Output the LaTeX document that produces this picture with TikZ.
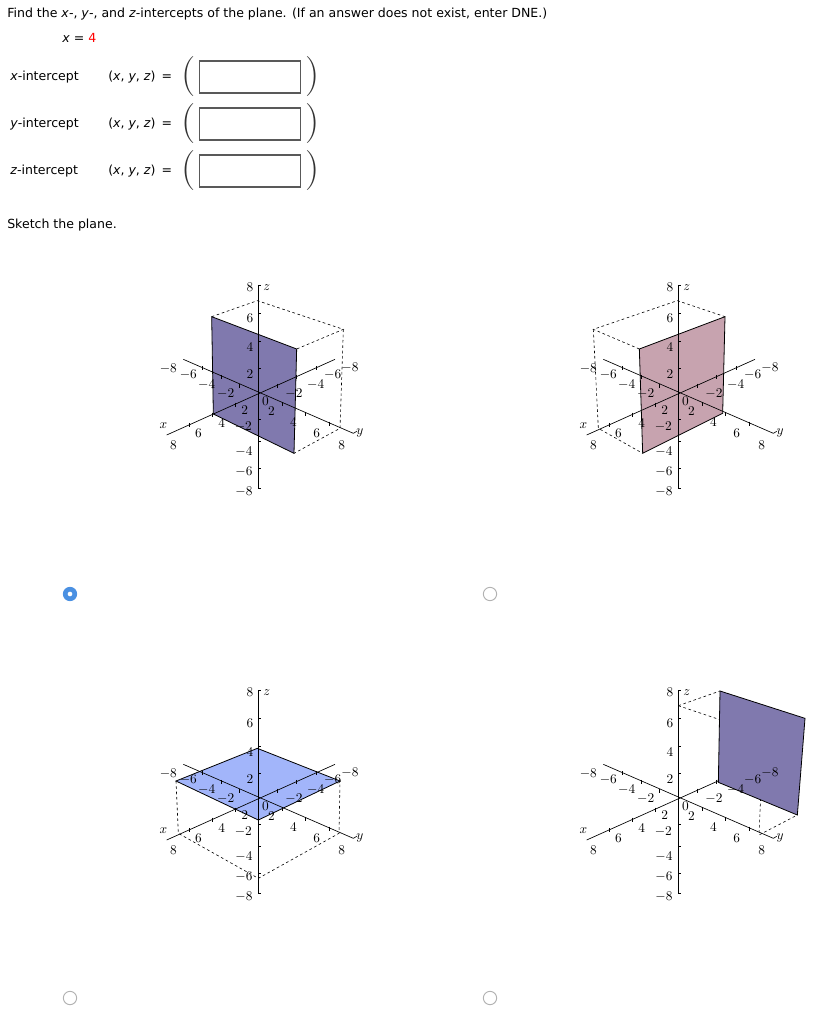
\documentclass[tikz,border=0pt]{standalone}
\usepackage{fontspec}
\newfontfamily\verd{DejaVu Sans}
\definecolor{pA}{HTML}{8079AE}
\definecolor{pB}{HTML}{C7A3AF}
\definecolor{pC}{HTML}{A2B5FA}
\definecolor{rad}{HTML}{4A90E2}
\tikzset{
  txt/.style={anchor=west,inner sep=0pt,font=\verd\fontsize{9.4}{11}\selectfont},
  ansbox/.style={draw=gray!70!black,line width=0.8pt,minimum width=75.5pt,minimum height=24pt,inner sep=0pt},
  paren/.style={inner sep=0pt,font=\fontsize{30}{30}\selectfont\color{black!80}},
  lab/.style={inner sep=0pt,font=\fontsize{10}{11}\selectfont},
  ax/.style={line width=0.5pt},
  dsh/.style={dashed,line width=0.45pt,dash pattern=on 2pt off 2pt},
  plane/.style={draw=black,line width=0.6pt},
  radio/.style={circle,draw=gray!60,line width=0.7pt,minimum size=10pt,inner sep=0pt}
}
\newcommand{\myaxlines}{%
  \draw[ax] (355,45) -- (355,655);
  \draw[ax] (355,45) -- (362,45);
  \foreach \z in {130,215,295,447,515,595,655} \draw[ax] (355,\z) -- (362,\z);
  \draw[ax] (130,268) -- (640,490);
  \draw[ax] (80,495) -- (585,268);
  \draw[ax] (640,490) -- (650,484);
  \foreach \t in {2,4,6} {
    \draw[ax] ({355-34.4*\t},{373+15.25*\t-6}) -- ++(0,12);
    \draw[ax] ({355+28.75*\t},{373-13.1*\t-6}) -- ++(0,12);
    \draw[ax] ({355+35.6*\t},{373+14.6*\t-6}) -- ++(0,12);
    \draw[ax] ({355-28.1*\t},{373-13.1*\t-6}) -- ++(0,12);
  }
}
\newcommand{\myaxlabels}{%
  \node[lab] (lz8) at (330,52) {8};
  \node[lab] (lz) at (380,52) {$z$};
  \node[lab] (lz6) at (330,145) {6};
  \node[lab] (lz4) at (330,230) {4};
  \node[lab] (lz2) at (330,312) {2};
  \node[lab] (lz0) at (376,395) {0};
  \node[lab] (lzm2) at (310,470) {$-2$};
  \node[lab] (lzm4) at (312,545) {$-4$};
  \node[lab] (lzm6) at (312,605) {$-6$};
  \node[lab] (lzm8) at (312,665) {$-8$};
  \node[lab] (lym8) at (85,295) {$-8$};
  \node[lab] (lym6) at (145,315) {$-6$};
  \node[lab] (lym4) at (200,343) {$-4$};
  \node[lab] (lym2) at (257,372) {$-2$};
  \node[lab] (ly2) at (394,423) {2};
  \node[lab] (ly4) at (460,457) {4};
  \node[lab] (ly6) at (530,490) {6};
  \node[lab] (ly8) at (605,525) {8};
  \node[lab] (ly) at (660,490) {$y$};
  \node[lab] (lx) at (70,468) {$x$};
  \node[lab] (lx8) at (100,525) {8};
  \node[lab] (lx6) at (175,490) {6};
  \node[lab] (lx4) at (245,460) {4};
  \node[lab] (lx2) at (314,420) {2};
  \node[lab] (lxm2) at (462,370) {$-2$};
  \node[lab] (lxm4) at (527,343) {$-4$};
  \node[lab] (lxm6) at (578,315) {$-6$};
  \node[lab] (lxm8) at (630,292) {$-8$};
}
\begin{document}
\begin{tikzpicture}[x=0.75pt,y=-0.75pt]
\useasboundingbox[fill=white] (0,0) rectangle (827,1019);
\node[txt] (q) at (7,14) {Find the \textit{x}-, \textit{y}-, and \textit{z}-intercepts of the plane. (If an answer does not exist, enter DNE.)};
\node[txt] (eq) at (62,38) {\textit{x} = \textcolor{red}{4}};
\foreach \nm/\yy in {x/77,y/124,z/171} {
  \node[txt] (n\nm) at (10,\yy) {\textit{\nm}-intercept};
  \node[txt] (t\nm) at (108,\yy) {(\textit{x}, \textit{y}, \textit{z}) \,=};
  \node[paren] (l\nm) at (189,\yy) {(};
  \node[ansbox] (b\nm) at (250,\yy) {};
  \node[paren] (r\nm) at (313,\yy) {)};
}
\node[txt] (sk) at (7,225) {Sketch the plane.};
% plot 1
\begin{scope}[xshift=105pt,yshift=-202.5pt,x=0.25pt,y=-0.25pt]
  \draw[dsh] (215,140) -- (352,92) -- (610,178) -- (470,237);
  \draw[dsh] (610,178) -- (600,475) -- (462,550);
  \fill[pA] (215,140) -- (470,237) -- (462,550) -- (220,432) -- cycle;
  \myaxlines
  \draw[plane] (215,140) -- (470,237) -- (462,550) -- (220,432) -- cycle;
  \myaxlabels
\end{scope}
% plot 2
\begin{scope}[xshift=420pt,yshift=-202.5pt,x=0.25pt,y=-0.25pt]
  \draw[dsh] (238,237) -- (100,178) -- (352,92) -- (495,140);
  \draw[dsh] (100,178) -- (115,475) -- (248,550);
  \fill[pB] (238,237) -- (495,140) -- (488,430) -- (248,550) -- cycle;
  \myaxlines
  \draw[plane] (238,237) -- (495,140) -- (488,430) -- (248,550) -- cycle;
  \myaxlabels
\end{scope}
% plot 3
\begin{scope}[xshift=105pt,yshift=-506.25pt,x=0.25pt,y=-0.25pt]
  \draw[dsh] (108,318) -- (115,475) -- (355,610) -- (597,475) -- (600,318);
  \fill[pC] (108,318) -- (352,220) -- (600,318) -- (355,435) -- cycle;
  \myaxlines
  \draw[plane] (108,318) -- (352,220) -- (600,318) -- (355,435) -- cycle;
  \myaxlabels
\end{scope}
% plot 4
\begin{scope}[xshift=420pt,yshift=-506.25pt,x=0.25pt,y=-0.25pt]
  \draw[dsh] (355,92) -- (480,48);
  \draw[dsh] (355,92) -- (610,178) -- (735,130);
  \draw[dsh] (610,178) -- (597,480) -- (712,420);
  \myaxlines
  \fill[pA] (480,48) -- (735,130) -- (712,420) -- (475,322) -- cycle;
  \draw[plane] (480,48) -- (735,130) -- (712,420) -- (475,322) -- cycle;
  \myaxlabels
\end{scope}
% radio buttons
\node[radio,fill=rad,draw=rad] (r1) at (70,594) {};
\node[circle,fill=white,minimum size=3.5pt,inner sep=0pt] (r1d) at (70,594) {};
\node[radio] (r2) at (490,594) {};
\node[radio] (r3) at (70,998) {};
\node[radio] (r4) at (490,998) {};
\end{tikzpicture}
\end{document}
